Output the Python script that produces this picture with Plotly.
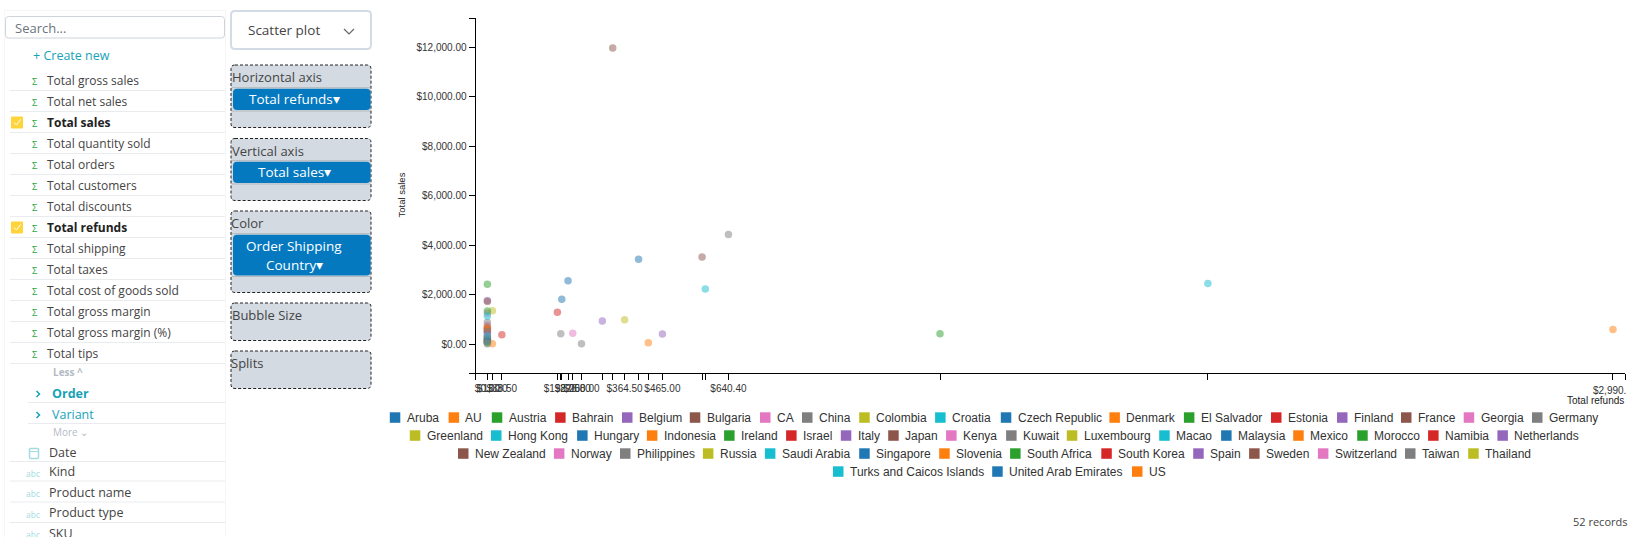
#!/usr/bin/env python3
"""Scatter plot of refunds vs sales by shipping country, with the pivot builder UI around it."""

import plotly.graph_objects as go

W, H = 1635, 537

COUNTRIES = [
    "Aruba", "AU", "Austria", "Bahrain", "Belgium", "Bulgaria", "CA", "China", "Colombia", "Croatia",
    "Czech Republic", "Denmark", "El Salvador", "Estonia", "Finland", "France", "Georgia", "Germany",
    "Greenland", "Hong Kong", "Hungary", "Indonesia", "Ireland", "Israel", "Italy", "Japan", "Kenya",
    "Kuwait", "Luxembourg", "Macao", "Malaysia", "Mexico", "Morocco", "Namibia", "Netherlands",
    "New Zealand", "Norway", "Philippines", "Russia", "Saudi Arabia", "Singapore", "Slovenia",
    "South Africa", "South Korea", "Spain", "Sweden", "Switzerland", "Taiwan", "Thailand",
    "Turks and Caicos Islands", "United Arab Emirates", "US",
]
REFUNDS = [
    0, 0, 0, 186, 305.4, 333, 0, 195, 13.3, 0,
    197.6, 13.3, 1202.4, 0, 0, 570.3, 226.8, 250,
    0, 579, 214.3, 427.6, 0, 0, 465, 0, 0,
    0, 364.5, 0, 0, 0, 0, 38.5, 0,
    0, 0, 640.4, 0, 1914, 401.6, 0,
    0, 0, 0, 0, 0, 0, 0,
    0, 0, 2990,
]
SALES = [
    12, 700, 2410, 1280, 929, 11960, 1240, 416, 1345, 120,
    1805, 12, 416, 600, 1760, 3515, 432, 12,
    270, 2222, 2558, 53, 1333, 480, 404, 1720, 760,
    877, 982, 1130, 60, 270, 190, 376, 497,
    640, 330, 4420, 70, 2440, 3422, 640,
    100, 160, 364, 220, 60, 520, 40,
    310, 90, 586,
]
PALETTE = ["#1f77b4", "#ff7f0e", "#2ca02c", "#d62728", "#9467bd",
           "#8c564b", "#e377c2", "#7f7f7f", "#bcbd22", "#17becf"]

X_TICKS = [-31, 0, 13.3, 38.5, 186, 195, 197.6, 214.3, 226.8, 250, 305.4, 333, 364.5, 401.6, 427.6,
           465, 570.3, 579, 640.4, 1202.4, 1914, 2990, 3022]
X_LABELS = ["", "$0.00", "$13.30", "$38.50", "", "", "$198.00", "", "$226.80", "$250.00", "", "",
            "$364.50", "", "", "$465.00", "", "", "$640.40", "", "", "", ""]
Y_TICKS = [-1184, 0, 2000, 4000, 6000, 8000, 10000, 12000, 13172]
Y_LABELS = ["", "$0.00", "$2,000.00", "$4,000.00", "$6,000.00", "$8,000.00", "$10,000.00", "$12,000.00", ""]

MEASURES = ["Total gross sales", "Total net sales", "Total sales", "Total quantity sold", "Total orders",
            "Total customers", "Total discounts", "Total refunds", "Total shipping", "Total taxes",
            "Total cost of goods sold", "Total gross margin", "Total gross margin (%)", "Total tips"]
CHECKED = ["Total sales", "Total refunds"]
TEXT_FIELDS = ["Kind", "Product name", "Product type", "SKU"]

# legend rows: left edge of each swatch
LEGEND_ROWS = [
    (417.8, [389.8, 448.6, 491.8, 555.1, 622, 689.8, 760, 802, 859.2, 935.1, 1000.8, 1109.4, 1183.9,
             1271, 1337, 1401, 1463.7, 1532]),
    (435.8, [409.8, 491, 577.1, 646.9, 724.1, 786.1, 840.8, 888.2, 946.1, 1006.1, 1066.8, 1159.2,
             1221.1, 1293.2, 1357.2, 1428.1, 1497.4]),
    (453.8, [458, 553.9, 620, 702.9, 764.9, 859.2, 939.2, 1010.1, 1101.3, 1193.2, 1249.1, 1317.9,
             1405, 1468.2]),
    (471.8, [833, 992.2, 1132]),
]

UI_FONT = "Open Sans"
CHART_FONT = "Liberation Sans"
TEAL = "#17a2b8"
ICON = "#a3dbe3"
GREEN = "#28a745"

shapes = []
notes = []


def px(x):
    return x / W


def py(y):
    return 1 - y / H


def text(x, y, s, size=12, color="#444", anchor="left", font=UI_FONT, angle=0, **extra):
    notes.append(dict(x=px(x), y=py(y), xref="paper", yref="paper", text=s, showarrow=False,
                      xanchor=anchor, yanchor="middle", textangle=angle, borderpad=0,
                      font=dict(family=font, size=size, color=color), **extra))


def rect(x0, y0, x1, y1, fill=None, line=None, width=1, dash=None, r=0):
    if r:
        x0p, x1p, y0p, y1p = px(x0), px(x1), py(y0), py(y1)
        rx, ry = r / W, r / H
        path = (f"M{x0p + rx},{y0p} L{x1p - rx},{y0p} Q{x1p},{y0p} {x1p},{y0p - ry} "
                f"L{x1p},{y1p + ry} Q{x1p},{y1p} {x1p - rx},{y1p} L{x0p + rx},{y1p} "
                f"Q{x0p},{y1p} {x0p},{y1p + ry} L{x0p},{y0p - ry} Q{x0p},{y0p} {x0p + rx},{y0p} Z")
        shape = dict(type="path", path=path)
    else:
        shape = dict(type="rect", x0=px(x0), x1=px(x1), y0=py(y0), y1=py(y1))
    shape.update(xref="paper", yref="paper", fillcolor=fill or "rgba(0,0,0,0)",
                 line=dict(color=line or "rgba(0,0,0,0)", width=width if line else 0, dash=dash))
    shapes.append(shape)


def polyline(points, color, width=1.5):
    path = "M" + " L".join(f"{px(x)},{py(y)}" for x, y in points)
    shapes.append(dict(type="path", path=path, xref="paper", yref="paper",
                       line=dict(color=color, width=width)))


def hline(x0, x1, y, color="#e9ecef"):
    polyline([(x0, y), (x1, y)], color, 1)


def draw_sidebar():
    polyline([(4.5, 10), (4.5, 537)], "#f6f6f6", 1)
    polyline([(225.5, 10), (225.5, 537)], "#f6f6f6", 1)
    hline(4.5, 225.5, 10.5, "#f6f6f6")
    rect(5.5, 16.5, 224.5, 38, fill="white", line="#ced4da", width=1, r=3)
    text(13.5, 28, "Search...", size=13, color="#6c757d")
    text(32, 55.5, "+ Create new", size=12.5, color=TEAL)

    for i, name in enumerate(MEASURES):
        y = 80.5 + 21 * i
        bold = name in CHECKED
        text(35, y + 1, "Σ", size=9.5, color=GREEN, anchor="center")
        text(46, y, f"<b>{name}</b>" if bold else name, size=12, color="#222" if bold else "#444")
        hline(10, 225, y + 10)
        if bold:
            rect(11, y - 6, 23, y + 6, fill="#ffd43b", r=1)
            polyline([(14, y), (16.5, y + 2.5), (20.5, y - 3)], "white", 1)

    text(52, 372, "<b>Less ^</b>", size=10, color="#b4bac4")
    polyline([(36.5, 391), (39.5, 394), (36.5, 397)], TEAL, 1.5)
    text(50.5, 393.5, "<b>Order</b>", size=12.5, color=TEAL)
    hline(28, 225, 402.5)
    polyline([(36.5, 412), (39.5, 415), (36.5, 418)], TEAL, 1.5)
    text(50.5, 414.5, "Variant", size=12.5, color=TEAL)
    hline(28, 225, 423.5)
    text(52, 432, "More ⌄", size=10, color="#b4bac4")

    rect(29.5, 448.5, 38.5, 458.5, line=ICON, width=1.5, r=1)
    hline(29.5, 38.5, 451.5, ICON)
    text(48, 452.5, "Date", size=12.5)
    hline(10, 225, 461.5)
    for i, name in enumerate(TEXT_FIELDS):
        y = 471.5 + 20.5 * i
        text(25, y + 1.5, "abc", size=8.5, color=ICON)
        text(48, y, name, size=12.5)
        hline(10, 225, y + 9.5 + (0.5 if i else 0))


def draw_builder():
    rect(231, 11, 371, 49, fill="white", line="#d2dbe6", width=2, r=4)
    text(247, 30, "Scatter plot", size=13.5)
    polyline([(344, 29), (349, 34), (354, 29)], "#666", 1.2)

    wells = [("Horizontal axis", 65, 127.5), ("Vertical axis", 138.5, 200.5), ("Color", 211, 292.5),
             ("Bubble Size", 303, 340.5), ("Splits", 351, 388.5)]
    for label, y0, y1 in wells:
        rect(231, y0, 371, y1, fill="#d3dae2", line="#222", width=1, dash="3px,2px", r=4)
        text(230.5, y0 + 12, label, size=13, color="#444")

    pills = [(88.7, 110, ["Total refunds▾"]), (161.7, 183, ["Total sales▾"]),
             (234.7, 275.5, ["Order Shipping", "Country▾"])]
    for y0, y1, lines in pills:
        polyline([(232, y0 - 1), (370, y0 - 1)], "#b5b9bd", 1)
        polyline([(232, y1 + 1), (370, y1 + 1)], "#b5b9bd", 1)
        rect(233, y0, 370.5, y1, fill="#0479c0", r=4)
        for j, line in enumerate(lines):
            text(294, (y0 + y1) / 2 + (j - (len(lines) - 1) / 2) * 19, line, size=13.5,
                 color="white", anchor="center")


def draw_legend():
    idx = 0
    for y, lefts in LEGEND_ROWS:
        for left in lefts:
            rect(left, y - 5.5, left + 10.5, y + 5, fill=PALETTE[idx % 10])
            text(left + 15.8, y, COUNTRIES[idx], size=12, color="#333", font=CHART_FONT)
            idx += 1


draw_sidebar()
draw_builder()
draw_legend()
text(401, 195.5, "Total sales", size=9.5, color="#222", anchor="center", font=CHART_FONT, angle=-90)
text(1625, 400, "Total refunds", size=10, color="#222", anchor="right", font=CHART_FONT)
text(1628, 521.5, "52 records", size=11, color="#444", anchor="right")
# the last x label runs out of the chart's svg in the original, so it is clipped to a fixed box
text(1592, 390, "$2,990.00", size=10, color="#333", font=CHART_FONT, width=33, align="left")

fig = go.Figure(go.Scatter(
    x=REFUNDS,
    y=SALES,
    text=COUNTRIES,
    mode="markers",
    marker=dict(size=7.5, opacity=0.5, line=dict(width=0),
                color=[PALETTE[i % 10] for i in range(len(COUNTRIES))]),
    hovertemplate="%{text}<br>%{x}<br>%{y}<extra></extra>",
))
axis_style = dict(showgrid=False, zeroline=False, showline=True, linecolor="black", linewidth=1.3,
                  ticks="outside", ticklen=6, tickwidth=1, tickcolor="black", tickmode="array",
                  tickfont=dict(family=CHART_FONT, size=10, color="#333"))
fig.update_xaxes(domain=[475.7 / W, 1625 / W], range=[X_TICKS[0], X_TICKS[-1]],
                 tickvals=X_TICKS, ticktext=X_LABELS, tickangle=0, **axis_style)
fig.update_yaxes(domain=[1 - 373.3 / H, 1 - 18 / H], range=[Y_TICKS[0], Y_TICKS[-1]],
                 tickvals=Y_TICKS, ticktext=Y_LABELS, **axis_style)
fig.update_layout(width=W, height=H, margin=dict(l=0, r=0, t=0, b=0), showlegend=False,
                  plot_bgcolor="white", paper_bgcolor="white", shapes=shapes, annotations=notes)

fig.write_html("out.html", post_script="document.body.style.margin='0';",
               config=dict(displayModeBar=False))
